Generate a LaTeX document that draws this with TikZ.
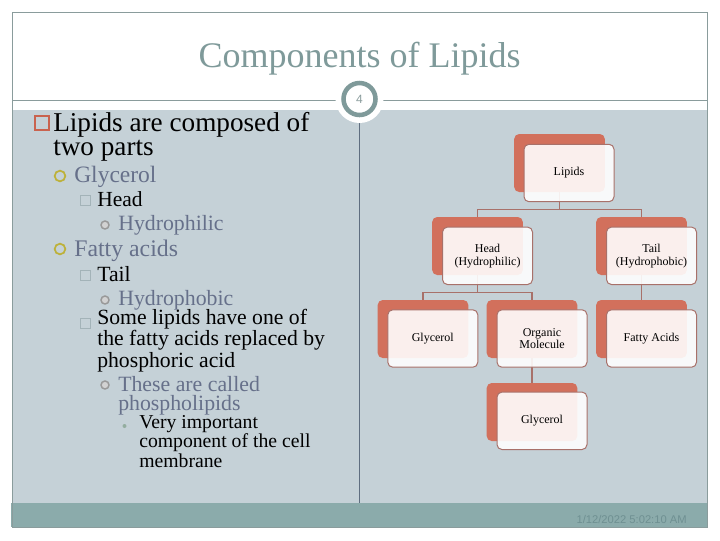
\documentclass[tikz,border=0pt]{standalone}
\usepackage{fontspec}
\setmainfont{Liberation Serif}
\setsansfont{Liberation Sans}
\definecolor{panel}{HTML}{C5D1D7}
\definecolor{foot}{HTML}{8BABAB}
\definecolor{framec}{HTML}{8A9C9C}
\definecolor{titlec}{HTML}{7F9A9A}
\definecolor{slatec}{HTML}{66708A}
\definecolor{redc}{HTML}{D2705C}
\definecolor{boxline}{HTML}{A8716A}
\definecolor{yellowc}{HTML}{BDB13A}
\definecolor{datec}{HTML}{6F9092}
\definecolor{vline}{HTML}{5F6E80}
\definecolor{smallsq}{HTML}{A3B3B8}
\definecolor{dotc}{HTML}{93AD9F}
\definecolor{sqred}{HTML}{C9634F}
\newcommand{\pxfont}[2]{\fontsize{\the\dimexpr #1pt*3/4\relax}{\the\dimexpr #2pt*3/4\relax}\selectfont}
\tikzset{
 x=0.75pt,y=-0.75pt,
 txt/.style={inner sep=0pt,anchor=base west,align=left},
 backbox/.style={fill=redc,rounded corners=3.75pt,inner sep=0pt,outer sep=0pt,minimum width=68pt,minimum height=43.5pt},
 frontbox/.style={draw=boxline,line width=0.75pt,fill=white,fill opacity=0.89,text opacity=1,rounded corners=3.75pt,inner sep=0pt,minimum width=67.5pt,minimum height=43.1pt,align=center,font=\fontsize{9}{9.6}\selectfont},
 link/.style={draw=boxline,line width=0.8pt},
 ybul/.style={draw=yellowc,line width=1.3pt,circle,inner sep=0pt,minimum size=8pt},
 gbul/.style={draw=gray!80,fill=gray!35,line width=1.1pt,circle,inner sep=0pt,minimum size=6pt},
 sbul/.style={draw=smallsq,line width=0.7pt,inner sep=0pt,minimum size=8pt},
}
\begin{document}
\begin{tikzpicture}
\useasboundingbox (0,0) rectangle (720,540);
\fill[white] (0,0) rectangle (720,540);
\fill[panel] (12,110) rectangle (707,503);
\fill[foot] (11,503) rectangle (707,527);
\draw[framec,line width=0.7pt] (12.5,12.5) rectangle (707.5,527);
\draw[framec,line width=0.7pt] (12.5,100) -- (707.5,100);
\draw[vline,line width=0.8pt] (359.4,110) -- (359.4,503);
% page badge
\fill[white] (359.5,99) circle (24);
\node[draw=titlec,fill=white,line width=3.4pt,circle,inner sep=0pt,minimum size=24pt,font=\sffamily\fontsize{9}{10}\selectfont,text=framec] (badge) at (359.5,99) {4};
% title
\node[inner sep=0pt,anchor=base,text=titlec,font=\pxfont{36}{40}] (title) at (359.5,67) {Components of Lipids};
% text
\node[draw=sqred,line width=1.5pt,inner sep=0pt,minimum size=10.5pt] (b1) at (42,123) {};
\node[txt,font=\pxfont{27.2}{24}] (t1) at (53,155) {Lipids are composed of\\two parts};
\node[ybul] (b2) at (60,176) {};
\node[txt,text=slatec,font=\pxfont{23.5}{24}] (t2) at (74,182) {Glycerol};
\node[sbul] (b3) at (85.5,200.5) {};
\node[txt,font=\pxfont{21.5}{24}] (t3) at (97,206) {Head};
\node[gbul] (b4) at (105,225) {};
\node[txt,text=slatec,font=\pxfont{21.8}{24}] (t4) at (118,230) {Hydrophilic};
\node[ybul] (b5) at (60,249) {};
\node[txt,text=slatec,font=\pxfont{23.8}{24}] (t5) at (74,256) {Fatty acids};
\node[sbul] (b6) at (85.5,275.5) {};
\node[txt,font=\pxfont{21.7}{24}] (t6) at (97,281) {Tail};
\node[gbul] (b7) at (105,300) {};
\node[txt,text=slatec,font=\pxfont{21.8}{24}] (t7) at (118,305) {Hydrophobic};
\node[sbul] (b8) at (85.5,323.5) {};
\node[txt,font=\pxfont{21.7}{19.5}] (t8) at (97,367) {Some lipids have one of\\the fatty acids replaced by\\phosphoric acid};
\node[gbul] (b9) at (105,385) {};
\node[txt,text=slatec,font=\pxfont{21.8}{19}] (t9) at (118,410) {These are called\\phospholipids};
\node[circle,fill=dotc,inner sep=0pt,minimum size=3pt] (b10) at (124.5,426) {};
\node[txt,font=\pxfont{19.7}{17.5}] (t10) at (139,467) {Very important\\component of the cell\\membrane};
% org chart: back plates
\node[backbox] (lb) at (559.5,163) {};
\node[backbox] (hb) at (477.5,246) {};
\node[backbox] (tb) at (641.5,246) {};
\node[backbox] (gb) at (423,329) {};
\node[backbox] (ob) at (532,329) {};
\node[backbox] (fb) at (641.5,329) {};
\node[backbox] (g2b) at (532,412) {};
% connectors
\draw[link] (lb.south) -- ++(0,17.5) -| (hb.north);
\draw[link] (lb.south) -- ++(0,17.5) -| (tb.north);
\draw[link] (hb.south) -- ++(0,17.5) -| (gb.north);
\draw[link] (hb.south) -- ++(0,17.5) -| (ob.north);
\draw[link] (tb.south) -- (fb.north);
\draw[link] (ob.south) -- (g2b.north);
% front plates
\node[frontbox] (l) at (569,173) {Lipids};
\node[frontbox] (h) at (487.5,255.8) {Head\\(Hydrophilic)};
\node[frontbox] (t) at (651.5,255.8) {Tail\\(Hydrophobic)};
\node[frontbox] (g) at (432.8,338.5) {Glycerol};
\node[frontbox] (o) at (542,338.5) {Organic\\Molecule};
\node[frontbox] (f) at (651.5,338.5) {Fatty Acids};
\node[frontbox] (g2) at (542,420.8) {Glycerol};
% date
\node[inner sep=0pt,anchor=base east,text=datec,font=\sffamily\pxfont{11.2}{13}] (date) at (687,523) {1/12/2022 5:02:10 AM};
\end{tikzpicture}
\end{document}
